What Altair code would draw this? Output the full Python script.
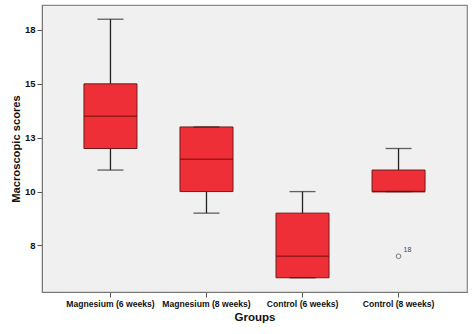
import altair as alt
import pandas as pd

groups = ["Magnesium (6 weeks)", "Magnesium (8 weeks)", "Control (6 weeks)", "Control (8 weeks)"]
whisker_low = [11.0, 9.0, 6.0, 10.0]
q1 = [12.0, 10.0, 6.0, 10.0]
median = [13.5, 11.5, 7.0, 10.0]
q3 = [15.0, 13.0, 9.0, 11.0]
whisker_high = [18.0, 13.0, 10.0, 12.0]

outlier_group = ["Control (8 weeks)"]
outlier_value = [7.0]
outlier_label = ["18"]

df = pd.DataFrame({"group": groups, "lo": whisker_low, "q1": q1, "med": median,
                   "q3": q3, "hi": whisker_high})
odf = pd.DataFrame({"group": outlier_group, "v": outlier_value, "lab": outlier_label})

FONT = "Liberation Sans"
ydom = [5.34, 18.66]

x = alt.X("group:N", sort=groups, title="Groups",
          scale=alt.Scale(paddingInner=0, paddingOuter=0.213),
          axis=alt.Axis(labelAngle=0, labelFont=FONT, labelFontWeight="bold",
                        labelFontSize=8.6, labelColor="#111", titleFont=FONT,
                        titleFontWeight="bold", titleFontSize=11.5, titleColor="#111",
                        titlePadding=4, tickSize=5, tickColor="#555", domainColor="#777",
                        labelPadding=2))
yscale = alt.Scale(domain=ydom, nice=False, zero=False)
yaxis = alt.Axis(values=[7.5, 10, 12.5, 15, 17.5], labelExpr="round(datum.value)",
                 grid=False, labelFont=FONT, labelFontWeight="bold", labelFontSize=9.5,
                 labelColor="#111", titleFont=FONT, titleFontWeight="bold",
                 titleFontSize=11.2, titleColor="#111", tickSize=5, tickColor="#555",
                 domainColor="#777", titlePadding=3, labelPadding=2)

base = alt.Chart(df)

whisk = base.mark_rule(color="#222", strokeWidth=1.3).encode(
    x=x, y=alt.Y("lo:Q", scale=yscale, axis=yaxis, title="Macroscopic scores"), y2="hi:Q")
box = base.mark_bar(size=53, color="#ef2f38", stroke="#6e1a1a", strokeWidth=1).encode(
    x=x, y="q1:Q", y2="q3:Q")
med = base.mark_tick(size=53, thickness=1.6, color="#7a0d0d").encode(x=x, y="med:Q")
caplo = base.mark_tick(size=26, thickness=1.3, color="#222").encode(x=x, y="lo:Q")
caphi = base.mark_tick(size=26, thickness=1.3, color="#222").encode(x=x, y="hi:Q")

ochart = alt.Chart(odf)
opt = ochart.mark_point(shape="circle", size=22, filled=False, color="#444",
                        strokeWidth=1).encode(x=x, y="v:Q")
olab = ochart.mark_text(dx=5, dy=-6, align="left", fontSize=7, font=FONT,
                        color="#444").encode(x=x, y="v:Q", text="lab:N")

chart = alt.layer(whisk, box, med, caplo, caphi, opt, olab).properties(
    width=425, height=287,
    autosize=alt.AutoSizeParams(type="none"),
    padding={"left": 42, "top": 5, "right": 7, "bottom": 42},
    background="white",
).configure_view(fill="#f0f0f0", stroke="#888", strokeWidth=1.2)

chart.save("out.html", embed_options={"renderer": "svg", "actions": False})
